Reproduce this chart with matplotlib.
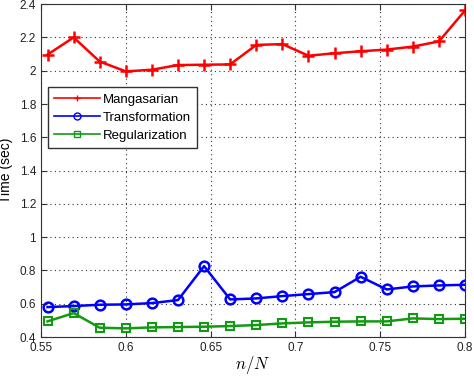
import matplotlib
matplotlib.use("Agg")
import matplotlib.pyplot as plt
import numpy as np

# n/N = n/65 for n = 36..52
n_vals = np.arange(36, 53)
ratio = n_vals / 65.0

mangasarian = [2.097, 2.200, 2.055, 1.996, 2.006, 2.034, 2.036, 2.038, 2.155,
               2.160, 2.090, 2.105, 2.117, 2.127, 2.145, 2.176, 2.362]
transformation = [0.580, 0.586, 0.594, 0.596, 0.604, 0.622, 0.826, 0.626, 0.632,
                  0.646, 0.658, 0.670, 0.762, 0.686, 0.704, 0.710, 0.714]
regularization = [0.494, 0.544, 0.456, 0.452, 0.458, 0.460, 0.462, 0.466, 0.472,
                  0.482, 0.488, 0.492, 0.494, 0.494, 0.512, 0.508, 0.510]

x_ticks = [0.55, 0.6, 0.65, 0.7, 0.75, 0.8]
x_tick_labels = ["0.55", "0.6", "0.65", "0.7", "0.75", "0.8"]
y_ticks = [0.4, 0.6, 0.8, 1.0, 1.2, 1.4, 1.6, 1.8, 2.0, 2.2, 2.4]
y_tick_labels = ["0.4", "0.6", "0.8", "1", "1.2", "1.4", "1.6", "1.8", "2", "2.2", "2.4"]

plt.rcParams["font.family"] = ["Liberation Sans", "DejaVu Sans"]
plt.rcParams["mathtext.fontset"] = "cm"

fig = plt.figure(figsize=(4.74, 3.77), dpi=100)
ax = fig.add_axes([0.0865, 0.106, 0.8945, 0.883])

ax.plot(ratio, mangasarian, color="#ff0000", marker="+", markersize=9,
        markeredgewidth=1.8, linewidth=1.8, label="Mangasarian")
ax.plot(ratio, transformation, color="#0000ff", marker="o", markersize=7,
        markerfacecolor="none", markeredgewidth=1.8, linewidth=1.8,
        label="Transformation")
ax.plot(ratio, regularization, color="#139a13", marker="s", markersize=6,
        markerfacecolor="none", markeredgewidth=1.5, linewidth=1.8,
        label="Regularization")

ax.set_xlim(0.55, 0.8)
ax.set_ylim(0.4, 2.4)
ax.set_xticks(x_ticks)
ax.set_xticklabels(x_tick_labels)
ax.set_yticks(y_ticks)
ax.set_yticklabels(y_tick_labels)
ax.tick_params(direction="in", labelsize=8.5, length=4, color="#333333",
               labelcolor="#222222", top=True, right=True)
ax.grid(True, linestyle=(0, (1, 3)), color="#333333", linewidth=0.8)
for s in ax.spines.values():
    s.set_color("#333333")

ax.set_xlabel("$n/N$", fontsize=12, labelpad=0)
ax.set_ylabel("Time (sec)", fontsize=10)
ax.yaxis.set_label_coords(-0.066, 0.5)

leg = ax.legend(loc="upper left", bbox_to_anchor=(0.016, 0.75), fontsize=9.5,
                fancybox=False, framealpha=1, edgecolor="#333333",
                handlelength=3.5, handletextpad=0.2, borderpad=0.45,
                labelspacing=0.45, borderaxespad=0)
for line in leg.get_lines():
    line.set_linewidth(1.2)
    line.set_markeredgewidth(1.0)
    line.set_markersize(5)

fig.savefig("out.png", dpi=100)
